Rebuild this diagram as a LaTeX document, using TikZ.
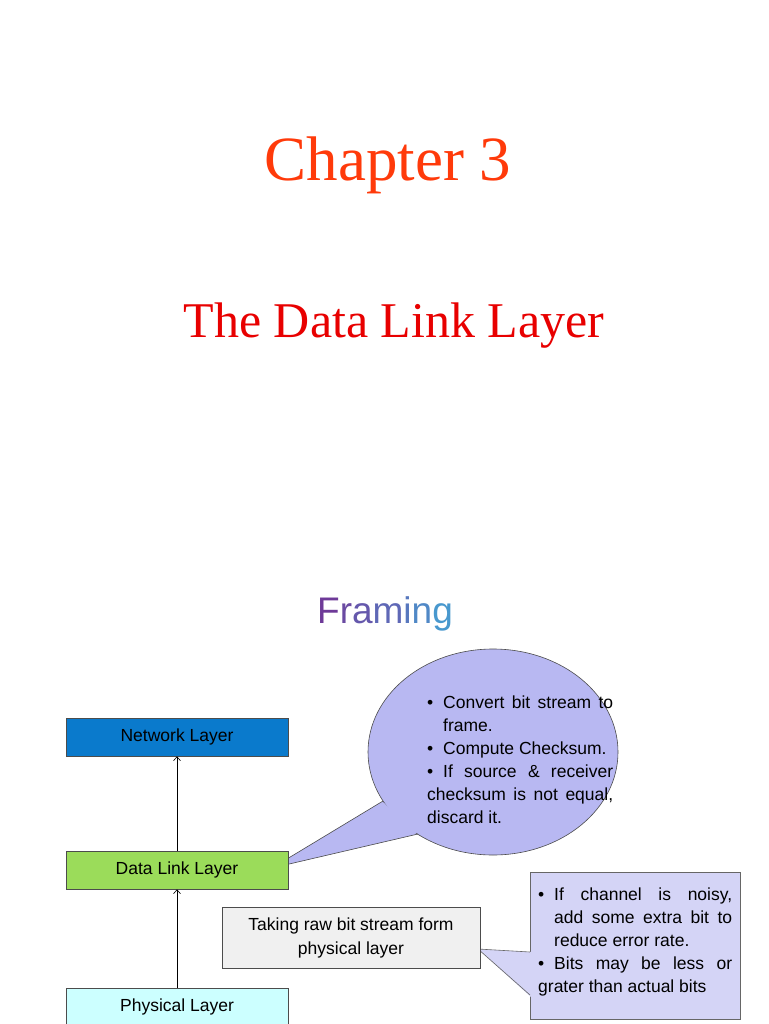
\documentclass[tikz,border=0pt]{standalone}
\usepackage{fontspec}
\setmainfont{Liberation Sans}
\newfontfamily\serifont{Liberation Serif}
\usetikzlibrary{shapes.geometric,arrows.meta}
\definecolor{netblue}{HTML}{0A7ACC}
\definecolor{dllgreen}{HTML}{9BDC5A}
\definecolor{phycyan}{HTML}{CCFFFF}
\definecolor{bubble}{HTML}{B8B8F2}
\definecolor{notebox}{HTML}{D4D4F6}
\newcommand{\bitem}[1]{\par\noindent\hangindent=16pt\hangafter=1\makebox[16pt][l]{\textbullet}#1}
\begin{document}
\begin{tikzpicture}[x=1pt,y=-1pt,
  layer/.style={draw=black!70,line width=0.6pt,minimum width=222pt,minimum height=38pt,font=\fontsize{17.5}{20}\selectfont},
  bl/.style={font=\fontsize{17.5}{23}\selectfont,align=justify,text width=186pt,inner sep=0pt,anchor=north west,execute at begin node={\hyphenpenalty=10000\exhyphenpenalty=10000\tolerance=9999\emergencystretch=20pt}}]
\useasboundingbox (0,0) rectangle (768,1024);
\fill[white] (0,0) rectangle (768,1024);
\node (ch) at (388,165) {\serifont\fontsize{63}{63}\selectfont\color[HTML]{FF3A0A}Chapter 3};
\node (dl) at (394,326) {\serifont\fontsize{50}{50}\selectfont\color[HTML]{E80000}The Data Link Layer};
\node (fr) at (385,614) {\fontsize{37}{37}\selectfont\color[HTML]{6E3A98}F\color[HTML]{6A4AA2}r\color[HTML]{6558AC}a\color[HTML]{5F68B6}m\color[HTML]{5878BE}i\color[HTML]{5088C6}n\color[HTML]{4898CE}g};
% bubble
\fill[bubble] (493,752) ellipse[x radius=125,y radius=103];
\coordinate (tip) at (272,868);
\fill[bubble] (390,790) -- (383,801) -- (tip) -- (418,834) -- (430,830) -- cycle;
\draw[black!70,line width=0.6pt] (493,752) ellipse[x radius=125,y radius=103];
\fill[bubble] (384,803) -- (tip) -- (417,833) -- cycle;
\draw[black!70,line width=0.6pt] (383,801) -- (tip) -- (418,834);
% layers
\node[layer,fill=netblue] (net) at (177,737) {Network Layer};
\node[layer,fill=dllgreen] (dll) at (177,870) {Data Link Layer};
\node[layer,fill=phycyan,anchor=north] (phy) at (177,988) {Physical Layer};
\draw[-{Straight Barb[length=4pt,width=7pt]},line width=0.6pt] (phy) -- (dll);
\draw[-{Straight Barb[length=4pt,width=7pt]},line width=0.6pt] (dll) -- (net);
% bubble text
\node[bl] (bt) at (427,685) {\bitem{Convert bit stream to frame.}\bitem{Compute Checksum.}\bitem{If source \& receiver checksum is not equal, discard it.}};
% right note box
\fill[notebox,draw=black!60,line width=0.6pt] (530,872) rectangle (740,1019);
\coordinate (tip2) at (478,949);
\fill[notebox] (531,952) -- (tip2) -- (531,997) -- cycle;
\draw[black!60,line width=0.6pt] (530,952) -- (tip2) -- (530,995);
\node[bl,text width=194pt] (nt) at (538,877) {\bitem{If channel is noisy, add some extra bit to reduce error rate.}\bitem{Bits may be less or grater than actual bits}};
% middle text box
\node[draw=black!70,fill=black!6,line width=0.6pt,minimum width=258pt,minimum height=61pt,align=center,font=\fontsize{17.5}{24}\selectfont] (tk) at (351,938) {Taking raw bit stream form\\physical layer};
\end{tikzpicture}
\end{document}
